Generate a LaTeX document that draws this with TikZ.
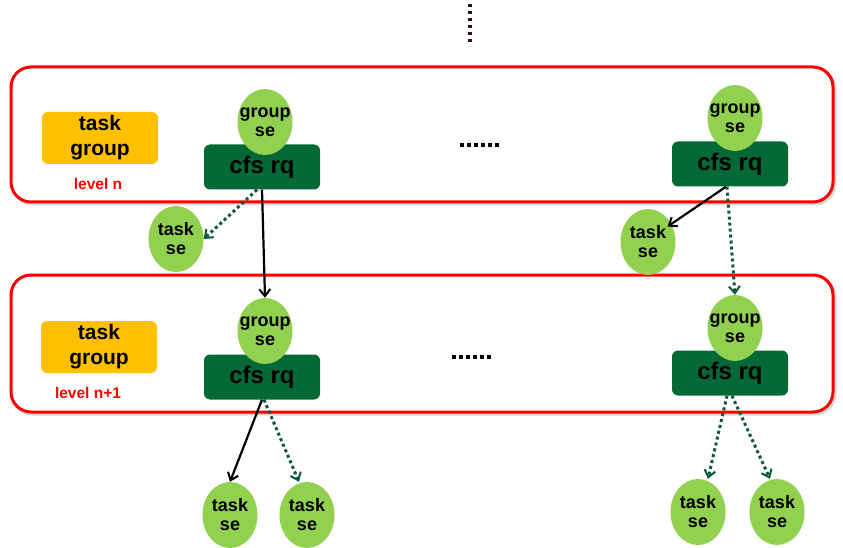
\documentclass[tikz,border=0pt]{standalone}
\usepackage{fontspec}
\setmainfont{Liberation Sans}
\usetikzlibrary{arrows.meta,shapes.geometric}
\definecolor{tgorange}{HTML}{FFC000}
\definecolor{segreen}{HTML}{92D050}
\definecolor{rqgreen}{HTML}{056937}
\definecolor{dotgreen}{HTML}{0E5A38}
\begin{document}
\begin{tikzpicture}[x=1pt,y=-1pt,
  levelbox/.style={draw=red,line width=3pt,rounded corners=20pt},
  tgbox/.style={fill=tgorange,rounded corners=6pt,minimum width=116pt,minimum height=52pt,inner sep=0pt,align=center,font=\bfseries\fontsize{21}{25}\selectfont},
  rqbox/.style={fill=rqgreen,rounded corners=6pt,minimum width=116pt,minimum height=45pt,inner sep=0pt,font=\bfseries\fontsize{24}{26}\selectfont},
  grpse/.style={ellipse,fill=segreen,minimum width=55pt,minimum height=66pt,inner sep=-14pt,align=center,font=\bfseries\fontsize{18}{19}\selectfont},
  lvl/.style={text=red,font=\bfseries\fontsize{15.5}{17}\selectfont},
  solidarr/.style={draw=black,line width=2.2pt,-{Straight Barb[length=7pt,width=11pt,line width=2pt]}},
  dotarr/.style={draw=dotgreen,line width=3pt,dash pattern=on 3pt off 3pt,-{Straight Barb[length=7pt,width=11pt,line width=2pt]}},
  dots/.style={line width=4pt,dash pattern=on 3.5pt off 3.5pt}
]
\useasboundingbox (0,0) rectangle (843,548);
\fill[white] (0,0) rectangle (843,548);
% vertical dots at the top
\coordinate (vt) at (470,4);
\coordinate (vb) at (470,46);
\draw[dots,draw={rgb,255:red,50;green,15;blue,15}] (vt) -- (vb);
% level boxes with subtle shadow
\draw[line width=3pt,rounded corners=20pt,draw=black!15] (13,69) rectangle (835,204);
\draw[levelbox,fill=white] (11,67) rectangle (833,202);
\draw[line width=3pt,rounded corners=20pt,draw=black!15] (13,277) rectangle (835,414);
\draw[levelbox,fill=white] (11,275) rectangle (833,412);
% task group labels
\node[tgbox] (tg1) at (100,138) {task\\group};
\node[lvl] (l1) at (98,184) {level n};
\node[tgbox] (tg2) at (99,347) {task\\group};
\node[lvl] (l2) at (88,393) {level n+1};
% middle dots
\draw[dots] (460,145) -- (502,145);
\draw[dots] (452,357) -- (494,357);
% upper level
\node[rqbox] (rq1) at (262,167) {cfs rq};
\node[grpse] (g1) at (265,122) {group\\se};
\node[rqbox] (rq2) at (730,164) {cfs rq};
\node[grpse] (g2) at (735,118) {group\\se};
% task se between levels
\node[grpse] (t1) at (176,239) {task\\se};
\node[grpse] (t2) at (648,242) {task\\se};
% lower level
\node[rqbox] (rq3) at (262,377) {cfs rq};
\node[grpse] (g3) at (265,331) {group\\se};
\node[rqbox] (rq4) at (730,373) {cfs rq};
\node[grpse] (g4) at (735,328) {group\\se};
% bottom task se
\node[grpse] (b1) at (230,515) {task\\se};
\node[grpse] (b2) at (307,515) {task\\se};
\node[grpse] (b3) at (698,512) {task\\se};
\node[grpse] (b4) at (777,512) {task\\se};
% connectors
\draw[dotarr] ([xshift=-5pt]rq1.south) -- (t1.east);
\draw[solidarr] (rq1.south) -- (g3.north);
\draw[solidarr] ([xshift=-4pt]rq2.south) -- ([yshift=-8pt]t2.north east);
\draw[dotarr] ([xshift=-3pt]rq2.south) -- (g4.north);
\draw[solidarr] (rq3.south) -- (b1.north);
\draw[dotarr] ([xshift=2pt]rq3.south) -- ([xshift=-8pt]b2.north);
\draw[dotarr] ([xshift=-3pt]rq4.south) -- ([xshift=10pt]b3.north);
\draw[dotarr] ([xshift=2pt]rq4.south) -- ([xshift=-7pt]b4.north);
\end{tikzpicture}
\end{document}
